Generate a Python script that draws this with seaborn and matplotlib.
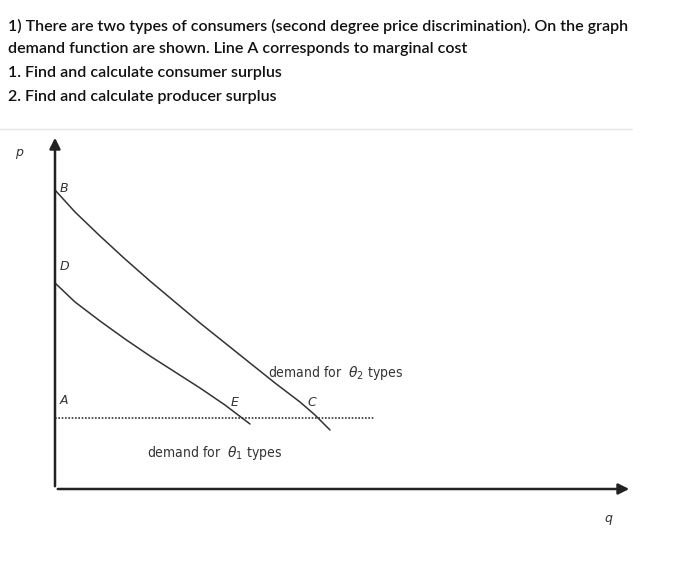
import matplotlib
matplotlib.use('Agg')
import matplotlib.pyplot as plt
import seaborn as sns
import pandas as pd

# Curve data (in picture units, q to the right, p downward)
high_q = [55, 75, 100, 125, 150, 175, 200, 225, 250, 275, 300, 315, 330]
high_p = [190, 212, 236, 259, 281, 302, 323, 343, 363, 383, 402, 415, 430]
low_q = [55, 75, 100, 125, 150, 175, 200, 225, 250]
low_p = [283, 302, 321, 339, 356, 372, 388, 405, 424]
mc_q = [55, 375]
mc_p = [418, 418]

question = ["1) There are two types of consumers (second degree price discrimination). On the graph",
            "demand function are shown. Line A corresponds to marginal cost",
            "1. Find and calculate consumer surplus",
            "2. Find and calculate producer surplus"]

sns.set_style('white')
plt.rcParams['font.family'] = ['Lato', 'DejaVu Sans']

fig = plt.figure(figsize=(7, 5.66), dpi=100)
ax = fig.add_axes([0, 0, 1, 1])
ax.set_xlim(0, 700)
ax.set_ylim(566, 0)
ax.axis('off')

for i, line in enumerate(question):
    ax.text(8, 26 + i * 23.5, line, fontsize=11.5, va='center', ha='left',
            color='#111', fontweight='semibold')

# light frame line under the question
ax.plot([0, 632], [129, 129], color='#e6e6e6', lw=1)

df_high = pd.DataFrame({'q': high_q, 'p': high_p})
df_low = pd.DataFrame({'q': low_q, 'p': low_p})
sns.lineplot(data=df_high, x='q', y='p', ax=ax, color='#333', lw=1.1, sort=False)
sns.lineplot(data=df_low, x='q', y='p', ax=ax, color='#333', lw=1.1, sort=False)
ax.plot(mc_q, mc_p, color='#333', lw=1.2, ls=(0, (1, 1)))

# axes with arrows
ax.annotate('', xy=(55, 135), xytext=(55, 489),
            arrowprops=dict(arrowstyle='-|>', color='#222', lw=1.8, mutation_scale=16))
ax.annotate('', xy=(632, 489), xytext=(55, 489),
            arrowprops=dict(arrowstyle='-|>', color='#222', lw=1.8, mutation_scale=16))

it = dict(fontsize=9, style='italic', color='#333', family=['DejaVu Sans'])
ax.text(15, 156, 'p', **it)
ax.text(604, 522, 'q', **it)
ax.text(60, 192, 'B', **it)
ax.text(60, 270, 'D', **it)
ax.text(60, 404, 'A', **it)
ax.text(231, 406, 'E', **it)
ax.text(307, 406, 'C', **it)

lab = dict(fontsize=10, color='#333', family=['DejaVu Sans'], stretch='condensed')
ax.text(268, 377, r'demand for  $\theta_2$ types', **lab)
ax.text(147, 457, r'demand for  $\theta_1$ types', **lab)

fig.savefig('out.png', dpi=100)
